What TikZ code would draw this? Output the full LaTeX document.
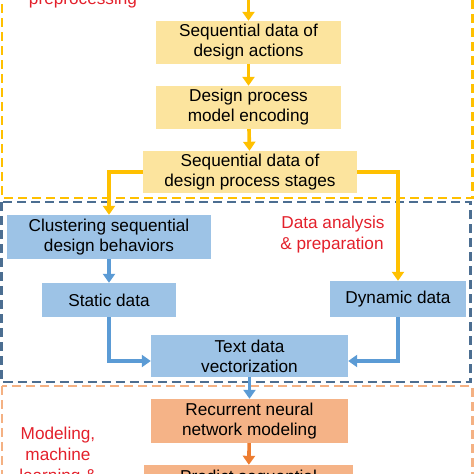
\documentclass[tikz,border=0pt]{standalone}
\usepackage{fontspec}
\setmainfont{Liberation Sans}
\usetikzlibrary{arrows.meta}
\definecolor{ygold}{HTML}{FFC000}
\definecolor{yfill}{HTML}{FCE49E}
\definecolor{bfill}{HTML}{9DC3E6}
\definecolor{barrow}{HTML}{5B9BD5}
\definecolor{bframe}{HTML}{4C6E91}
\definecolor{oframe}{HTML}{F4B183}
\definecolor{ofill}{HTML}{F5B387}
\definecolor{oarrow}{HTML}{ED7D31}
\definecolor{redtxt}{HTML}{E3202B}
\begin{document}
\begin{tikzpicture}[x=1pt,y=-1pt,
  txt/.style={font=\fontsize{17.2}{20}\selectfont, align=center, inner sep=0pt},
  ybox/.style={txt, fill=yfill},
  bbox/.style={txt, fill=bfill},
  obox/.style={txt, fill=ofill},
  redlab/.style={font=\fontsize{17.2}{20}\selectfont, text=redtxt, inner sep=0pt, anchor=base},
  frm/.style={line width=2.6pt, dash pattern=on 9pt off 5pt},
  conn/.style={line width=3.6pt, -{Triangle[width=12pt,length=9pt]}},
  yconn/.style={conn, draw=ygold},
  bconn/.style={conn, draw=barrow},
  oconn/.style={conn, draw=oarrow}]
\useasboundingbox (0,0) rectangle (474,474);
\clip (0,0) rectangle (474,474);
% frames
\draw[frm, draw=ygold] (2,-10) rectangle (472.5,198);
\draw[frm, draw=oframe] (2,386) rectangle (472.5,520);
\draw[frm, draw=bframe] (1.5,202) rectangle (470.5,382);
% labels
\node[redlab] (lpre) at (83,4) {preprocessing};
\node[redlab] (lda1) at (333,228) {Data analysis};
\node[redlab] (lda2) at (332,249) {\& preparation};
\node[redlab] (lmo1) at (58,439) {Modeling,};
\node[redlab] (lmo2) at (58,460) {machine};
\node[redlab] (lmo3) at (58,481) {learning \&};
% boxes
\node[ybox, minimum width=185pt, minimum height=43pt] (b1) at (248.5,42.5) {Sequential data of\\design actions};
\node[ybox, minimum width=185pt, minimum height=43pt] (b2) at (248.5,107.5) {Design process\\model encoding};
\node[ybox, minimum width=214pt, minimum height=42pt] (b3) at (250,172) {Sequential data of\\design process stages};
\node[bbox, minimum width=204pt, minimum height=44pt] (clus) at (109,237) {Clustering sequential\\design behaviors};
\node[bbox, minimum width=134pt, minimum height=34pt] (stat) at (109,300) {Static data};
\node[bbox, minimum width=136pt, minimum height=36pt] (dyn) at (398,299) {Dynamic data};
\node[bbox, minimum width=197pt, minimum height=42pt] (vec) at (249.5,356) {Text data\\vectorization};
\node[obox, minimum width=197pt, minimum height=44pt] (rnn) at (249.5,421) {Recurrent neural\\network modeling};
\node[obox, minimum width=209pt, minimum height=44pt, text height=17pt, text depth=27pt] (pred) at (248.5,487) {Predict sequential};
% connectors
\coordinate (topin) at (248.5,-12);
\draw[yconn] (topin) -- (b1.north);
\draw[yconn] (b1) -- (b2);
\draw[yconn] (b2) -- (b3);
\draw[yconn] (b3.west) -| (clus.north);
\draw[yconn] (b3.east) -| (dyn.north);
\draw[bconn] (clus) -- (stat);
\draw[bconn] (stat.south) |- ([yshift=-5pt]vec.west);
\draw[bconn] (dyn.south) |- ([yshift=-5pt]vec.east);
\draw[bconn] (vec) -- (rnn);
\draw[oconn] (rnn) -- (pred);
\end{tikzpicture}
\end{document}
